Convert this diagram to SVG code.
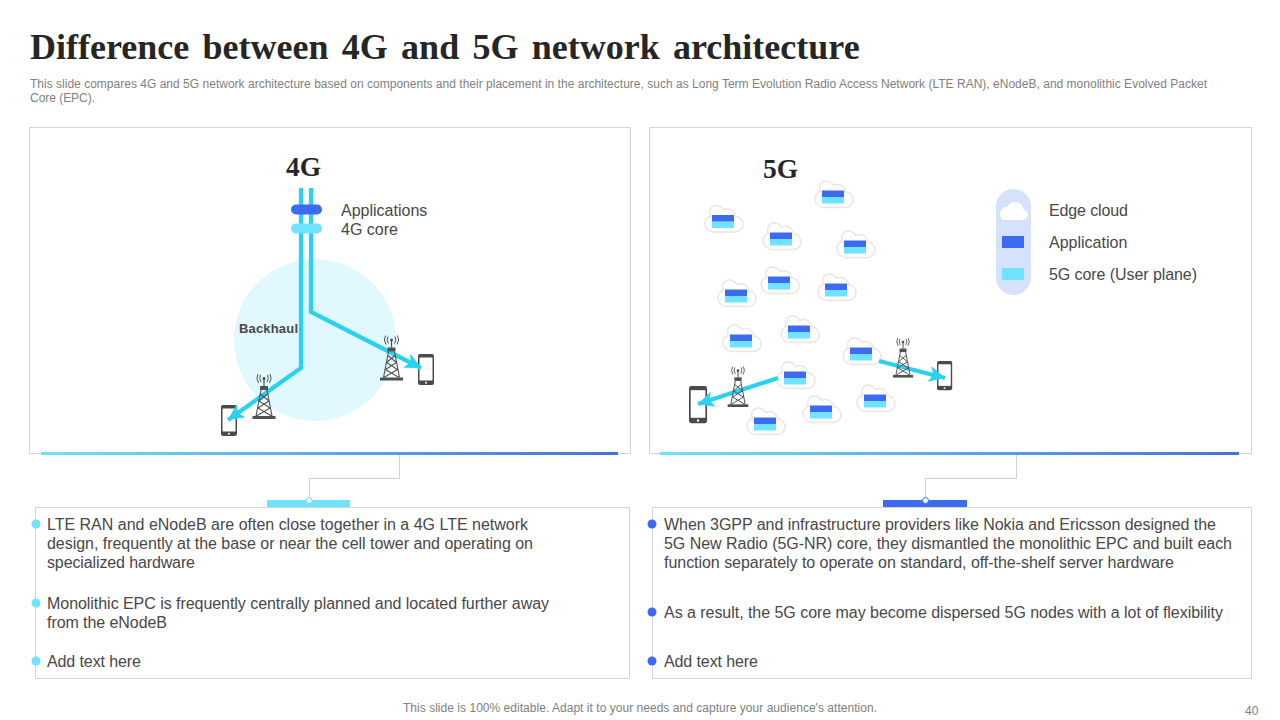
<svg xmlns="http://www.w3.org/2000/svg" width="1280" height="720" viewBox="0 0 1280 720">
<style>
text{font-family:"Liberation Sans",Arial,sans-serif;fill:#484848}
.t{font-family:"Liberation Serif","Times New Roman",serif;font-weight:700;fill:#262626}
.b{font-size:16px}
.s{font-size:12px;fill:#7f7f7f}
.panel{fill:#fff;stroke:#d4d4d4;stroke-width:1}
.thin{fill:none;stroke:#d0d0d0;stroke-width:1}
.link{fill:none;stroke:#2ad2f0;stroke-width:4.300}
.blue{fill:#3d6bf0}
.cyan{fill:#6fe3ff}
</style>
<defs>
<linearGradient id="g" x1="0" x2="1" y1="0" y2="0"><stop offset="0" stop-color="#70e0f6"/><stop offset="1" stop-color="#4572d4"/></linearGradient>
<marker id="arr" markerUnits="userSpaceOnUse" markerWidth="20" markerHeight="18" refX="16" refY="8" orient="auto"><path d="M0,0L16,8L0,16L4,8Z" fill="#2ad2f0"/></marker>
<path id="cloudShape" d="M-9,10.500H12C17,10.500 20,7 20,3C20,-2 16.500,-5 13,-5C12,-10 8,-13 4,-12.500C3,-12.500 1.500,-12 0.500,-11.500C-1,-14.500 -4,-16 -7,-16C-11,-16 -13.500,-12.500 -13.500,-9C-13.500,-7.500 -13,-6.500 -12.500,-5.500C-15.500,-5 -18,-2 -18,1.500C-18,6.500 -14,10.500 -9,10.500Z"/>
<g id="cloud"><use href="#cloudShape" fill="#fff" stroke="#e8e5e2" stroke-width="1.400"/><rect class="cyan" x="-11" y="0" width="22" height="6.500"/><rect class="blue" x="-11" y="-6.500" width="22" height="6.500"/></g>
<g id="tower" fill="none" stroke="#505050">
<path d="M0,4V12" stroke-width="1.200"/><circle cx="0" cy="4.500" r="1.500" fill="#505050" stroke="none"/>
<path d="M-3.500,1Q-5.500,4.500 -3,8M3.500,1Q5.500,4.500 3,8M-6,0Q-8.500,4.500 -5.500,9M6,0Q8.500,4.500 5.500,9" stroke-width="1"/>
<rect x="-4" y="12" width="8" height="4" fill="#505050" stroke="none"/>
<path d="M-3,16L-8,42M3,16L8,42M-3.500,20L5,27L-6,34L7.500,42M3.500,20L-5,27L6,34L-7.500,42" stroke-width="1.100"/>
<rect x="-11.500" y="42" width="23" height="3" fill="#505050" stroke="none"/>
</g>
<g id="phone"><rect x="0" y="0" width="16" height="31" rx="2" fill="#4a4a4a"/><rect x="1.500" y="3.500" width="13" height="23" fill="#fff"/><circle cx="8" cy="28.800" r="1" fill="#fff"/></g>
</defs>
<rect width="1280" height="720" fill="#fff"/>
<g id="header">
<text class="t" x="30" y="59" font-size="36" word-spacing="4.300">Difference between 4G and 5G network architecture</text>
<text class="s" x="30" y="88" textLength="1177">This slide compares 4G and 5G network architecture based on components and their placement in the architecture, such as Long Term Evolution Radio Access Network (LTE RAN), eNodeB, and monolithic Evolved Packet</text>
<text class="s" x="30" y="102" textLength="65">Core (EPC).</text>
</g>
<g id="panel-4g">
<rect class="panel" x="29.500" y="127.500" width="601" height="326"/>
<circle cx="315" cy="340" r="81" fill="#e0f8fe"/>
<text class="t" x="286" y="176" font-size="27.500">4G</text>
<text x="239" y="333" font-size="13" font-weight="700" textLength="59">Backhaul</text>
</g>
<g id="panel-5g">
<rect class="panel" x="649.500" y="127.500" width="602" height="326"/>
<text class="t" x="763" y="178" font-size="27.500">5G</text>
</g>
<g id="edge-clouds">
<use href="#cloud" x="833" y="197"/><use href="#cloud" x="723" y="221.500"/><use href="#cloud" x="781" y="239"/><use href="#cloud" x="855" y="247"/><use href="#cloud" x="779" y="283"/><use href="#cloud" x="836" y="290"/><use href="#cloud" x="736" y="296"/><use href="#cloud" x="799" y="332"/><use href="#cloud" x="741" y="341"/><use href="#cloud" x="861" y="354"/><use href="#cloud" x="795" y="378"/><use href="#cloud" x="875" y="401"/><use href="#cloud" x="821" y="412"/><use href="#cloud" x="765" y="424"/>
</g>
<g id="phones">
<use href="#phone" x="221" y="405"/><use href="#phone" x="418" y="354"/>
<use href="#phone" transform="translate(689,386) scale(1.130,1.200)"/><use href="#phone" transform="translate(937,361) scale(.95,.94)"/>
</g>
<g id="connectors">
<path class="link" d="M301,188V368L228,420" marker-end="url(#arr)"/>
<path class="link" d="M311,188V312L421,368" marker-end="url(#arr)"/>
<path class="link" d="M778,378L698,404" marker-end="url(#arr)"/>
<path class="link" d="M879,361L945,378" marker-end="url(#arr)"/>
<path class="thin" d="M399.500,455V478.500H309.500V500"/>
<path class="thin" d="M1016.500,455V478.500H925.500V500"/>
</g>
<g id="core-4g">
<rect class="blue" x="291" y="204.500" width="31" height="10" rx="5"/>
<rect class="cyan" x="291" y="223.500" width="31" height="10" rx="5"/>
<text class="b" x="341" y="216">Applications</text>
<text class="b" x="341" y="235">4G core</text>
</g>
<g id="towers">
<use href="#tower" x="264" y="374"/><use href="#tower" x="391.500" y="335.500"/>
<use href="#tower" transform="translate(738,366.500) scale(.9)"/><use href="#tower" transform="translate(903,338) scale(.88)"/>
</g>
<g id="legend">
<rect x="996" y="189" width="35" height="106" rx="17.500" fill="#d6e2fb"/>
<path d="M1004,220H1023C1026,220 1028,217 1028,214.500C1028,211.500 1026,209.500 1023.500,209C1023,205 1019,202 1015,202C1011.500,202 1009,204 1008,206.500C1004,206.500 1000,210 1000,214.500C1000,217.500 1002,220 1004,220Z" fill="#fff"/>
<rect class="blue" x="1002" y="236" width="22" height="12"/>
<rect class="cyan" x="1002" y="268" width="22" height="12"/>
<text class="b" x="1049" y="216" textLength="79">Edge cloud</text>
<text class="b" x="1049" y="248">Application</text>
<text class="b" x="1049" y="280" textLength="148">5G core (User plane)</text>
</g>
<g id="rule-4g"><rect x="41" y="452" width="577" height="3" fill="url(#g)"/></g>
<g id="rule-5g"><rect x="660" y="452" width="579" height="3" fill="url(#g)"/></g>
<g id="box-4g">
<rect class="panel" x="35.500" y="507.500" width="594" height="171"/>
<rect class="cyan" x="267" y="500" width="83" height="7"/>
<circle cx="309" cy="500.500" r="3" fill="#fff" stroke="#6fe3ff"/>
<circle class="cyan" cx="36" cy="524" r="4.500"/><circle class="cyan" cx="36" cy="603" r="4.500"/><circle class="cyan" cx="36" cy="661" r="4.500"/>
<text class="b" x="47" y="530" textLength="481">LTE RAN and eNodeB are often close together in a 4G LTE network</text>
<text class="b" x="47" y="549" textLength="486">design, frequently at the base or near the cell tower and operating on</text>
<text class="b" x="47" y="568" textLength="148">specialized hardware</text>
<text class="b" x="47" y="609" textLength="502">Monolithic EPC is frequently centrally planned and located further away</text>
<text class="b" x="47" y="628" textLength="120">from the eNodeB</text>
<text class="b" x="47" y="667" textLength="94">Add text here</text>
</g>
<g id="box-5g">
<rect class="panel" x="652.500" y="507.500" width="599" height="171"/>
<rect class="blue" x="883" y="500" width="84" height="7"/>
<circle cx="925.500" cy="500.500" r="3" fill="#fff" stroke="#3d6bf0"/>
<circle class="blue" cx="652" cy="524" r="4.500"/><circle class="blue" cx="652" cy="612" r="4.500"/><circle class="blue" cx="652" cy="661" r="4.500"/>
<text class="b" x="664" y="530" textLength="552">When 3GPP and infrastructure providers like Nokia and Ericsson designed the</text>
<text class="b" x="664" y="549" textLength="568">5G New Radio (5G-NR) core, they dismantled the monolithic EPC and built each</text>
<text class="b" x="664" y="568" textLength="510">function separately to operate on standard, off-the-shelf server hardware</text>
<text class="b" x="664" y="618" textLength="559">As a result, the 5G core may become dispersed 5G nodes with a lot of flexibility</text>
<text class="b" x="664" y="667" textLength="94">Add text here</text>
</g>
<g id="footer">
<text class="s" x="403" y="712" textLength="474">This slide is 100% editable. Adapt it to your needs and capture your audience's attention.</text>
<text class="s" x="1245" y="715">40</text>
</g>
</svg>
